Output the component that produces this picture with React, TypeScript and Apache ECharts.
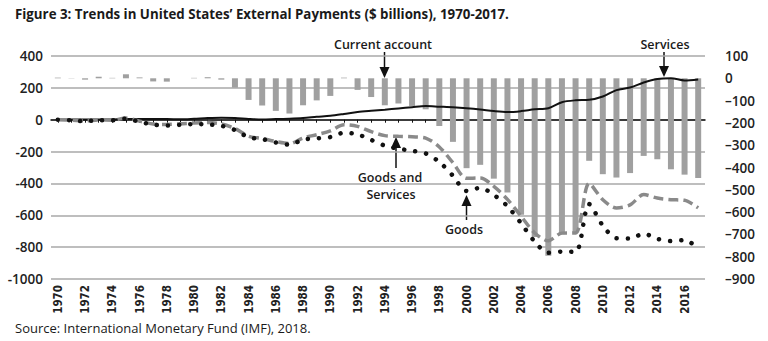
import React, { useEffect, useRef } from "react";
import * as echarts from "echarts";

const years = [
  "1970", "1971", "1972", "1973", "1974", "1975", "1976", "1977", "1978", "1979",
  "1980", "1981", "1982", "1983", "1984", "1985", "1986", "1987", "1988", "1989",
  "1990", "1991", "1992", "1993", "1994", "1995", "1996", "1997", "1998", "1999",
  "2000", "2001", "2002", "2003", "2004", "2005", "2006", "2007", "2008", "2009",
  "2010", "2011", "2012", "2013", "2014", "2015", "2016", "2017",
];

// Current account (right axis, bars)
const currentAccount = [
  3, -1, -6, 7, 2, 18, 4, -14, -15, 0,
  2, 5, -6, -42, -97, -122, -146, -158, -121, -99,
  -79, 3, -52, -84, -121, -113, -124, -139, -214, -285,
  -403, -388, -450, -512, -612, -712, -796, -699, -691, -370,
  -430, -445, -425, -348, -363, -408, -432, -447,
];

// Services (left axis, solid black)
const services = [
  0, 1, 1, 1, 2, 4, 4, 4, 4, 3,
  6, 10, 12, 10, 5, 2, 4, 6, 10, 18,
  25, 36, 48, 56, 63, 71, 79, 86, 82, 78,
  72, 64, 54, 48, 54, 65, 72, 110, 122, 125,
  146, 186, 202, 234, 256, 261, 246, 252,
];

// Goods and services (left axis, grey dashed)
const goodsAndServices = [
  0, -3, -8, -1, -3, 10, -9, -27, -30, -26,
  -20, -18, -26, -55, -104, -118, -137, -150, -115, -94,
  -70, -31, -42, -75, -100, -104, -107, -115, -171, -270,
  -368, -366, -418, -500, -606, -711, -760, -712, -711, -400,
  -502, -554, -535, -470, -492, -502, -506, -554,
];

// Goods (left axis, black dotted)
const goods = [
  0, -4, -10, -3, -4, 6, -13, -31, -36, -32,
  -27, -30, -38, -65, -110, -122, -143, -157, -125, -117,
  -109, -82, -92, -127, -163, -182, -195, -212, -265, -352,
  -447, -428, -472, -543, -650, -765, -836, -828, -830, -530,
  -665, -744, -746, -716, -748, -762, -756, -808,
];

const titleText =
  "Figure 3: Trends in United States\u2019 External Payments ($ billions), 1970-2017.";
const sourceText = "Source: International Monetary Fund (IMF), 2018.";

const FONT = "'Open Sans', 'Noto Sans', sans-serif";

function arrowDown(x: number, yTop: number, yTip: number) {
  const headH = 11;
  return [
    { type: "line", shape: { x1: x, y1: yTop, x2: x, y2: yTip - headH + 1 }, style: { stroke: "#111", lineWidth: 1.5 } },
    { type: "polygon", shape: { points: [[x - 5, yTip - headH], [x + 5, yTip - headH], [x, yTip]] }, style: { fill: "#111" } },
  ];
}
function arrowUp(x: number, yTip: number, yBottom: number) {
  const headH = 11;
  return [
    { type: "line", shape: { x1: x, y1: yTip + headH - 1, x2: x, y2: yBottom }, style: { stroke: "#111", lineWidth: 1.5 } },
    { type: "polygon", shape: { points: [[x - 5, yTip + headH], [x + 5, yTip + headH], [x, yTip]] }, style: { fill: "#111" } },
  ];
}
function label(text: string, x: number, y: number, size = 12.5, weight: any = 600, align = "center") {
  return {
    type: "text",
    x,
    y,
    style: { text, fontSize: size, fontWeight: weight, fontFamily: FONT, fill: "#1a1a1a", align, verticalAlign: "middle" },
  };
}

export default function App() {
  const ref = useRef<HTMLDivElement>(null);
  useEffect(() => {
    if (!ref.current) return;
    const chart = echarts.init(ref.current, undefined, { renderer: "svg" });
    chart.setOption({
      animation: false,
      grid: { left: 51, right: 63, top: 56, bottom: 62, containLabel: false },
      xAxis: [
        {
          type: "category",
          data: years,
          boundaryGap: true,
          position: "bottom",
          axisLine: { show: false, onZero: false },
          axisTick: { show: false },
          splitLine: { show: false },
          axisLabel: {
            interval: 1,
            rotate: 90,
            margin: 6,
            fontSize: 11.5,
            fontWeight: "bold",
            fontFamily: "'Liberation Sans Narrow', 'DejaVu Sans Condensed', 'Liberation Sans', sans-serif",
            color: "#222",
          },
        },
        {
          type: "category",
          data: years,
          boundaryGap: true,
          position: "bottom",
          axisLine: { show: true, onZero: true, onZeroAxisIndex: 0, lineStyle: { color: "#111", width: 1.5 } },
          axisTick: { show: true, alignWithLabel: true, interval: 0, length: 3, lineStyle: { color: "#111", width: 1 } },
          axisLabel: { show: false },
          splitLine: { show: false },
        },
      ],
      yAxis: [
        {
          type: "value",
          min: -1000,
          max: 400,
          interval: 200,
          position: "left",
          axisLine: { show: false },
          axisTick: { show: false },
          splitLine: { show: true, lineStyle: { color: "#a8a8a8", width: 1.5 } },
          axisLabel: {
            margin: 8,
            fontSize: 13.5,
            fontWeight: 600,
            fontFamily: FONT,
            color: "#222",
            formatter: (v: number) => String(v),
          },
        },
        {
          type: "value",
          min: -900,
          max: 100,
          interval: 100,
          position: "right",
          axisLine: { show: false },
          axisTick: { show: false },
          splitLine: { show: false },
          axisLabel: {
            margin: 20,
            fontSize: 13.5,
            fontWeight: 600,
            fontFamily: FONT,
            color: "#222",
            formatter: (v: number) => (v < 0 ? "\u2013" + Math.abs(v) : String(v)),
          },
        },
      ],
      series: [
        {
          name: "Current account",
          type: "bar",
          xAxisIndex: 0,
          yAxisIndex: 1,
          data: currentAccount,
          barWidth: 6,
          itemStyle: { color: "#a0a0a0" },
        },
        {
          name: "Services",
          type: "line",
          xAxisIndex: 0,
          yAxisIndex: 0,
          data: services,
          smooth: 0.3,
          symbol: "none",
          lineStyle: { color: "#111", width: 2 },
        },
        {
          name: "Goods and Services",
          type: "line",
          xAxisIndex: 0,
          yAxisIndex: 0,
          data: goodsAndServices,
          smooth: 0.3,
          symbol: "none",
          lineStyle: { color: "#8a8a8a", width: 3.5, type: [10, 5] },
        },
        {
          name: "Goods",
          type: "line",
          xAxisIndex: 0,
          yAxisIndex: 0,
          data: goods,
          smooth: 0.3,
          symbol: "none",
          lineStyle: { color: "#111", width: 4.5, type: [0.1, 11], cap: "round" },
        },
      ],
      graphic: [
        label(titleText, 15, 14, 13.3, 700, "left"),
        label(sourceText, 15, 328, 13, 400, "left"),
        label("Current account", 383, 44),
        ...arrowDown(384.5, 52, 78),
        label("Services", 665, 44),
        ...arrowDown(664, 52, 77),
        label("Goods and", 390, 177),
        label("Services", 391, 194),
        ...arrowUp(396, 137, 168),
        label("Goods", 464, 229),
        ...arrowUp(466.5, 195, 220),
      ],
    });
    return () => chart.dispose();
  }, []);
  return (
    <div
      ref={ref}
      style={{ position: "absolute", left: 0, top: 0, width: 768, height: 341, background: "#fff" }}
    />
  );
}
